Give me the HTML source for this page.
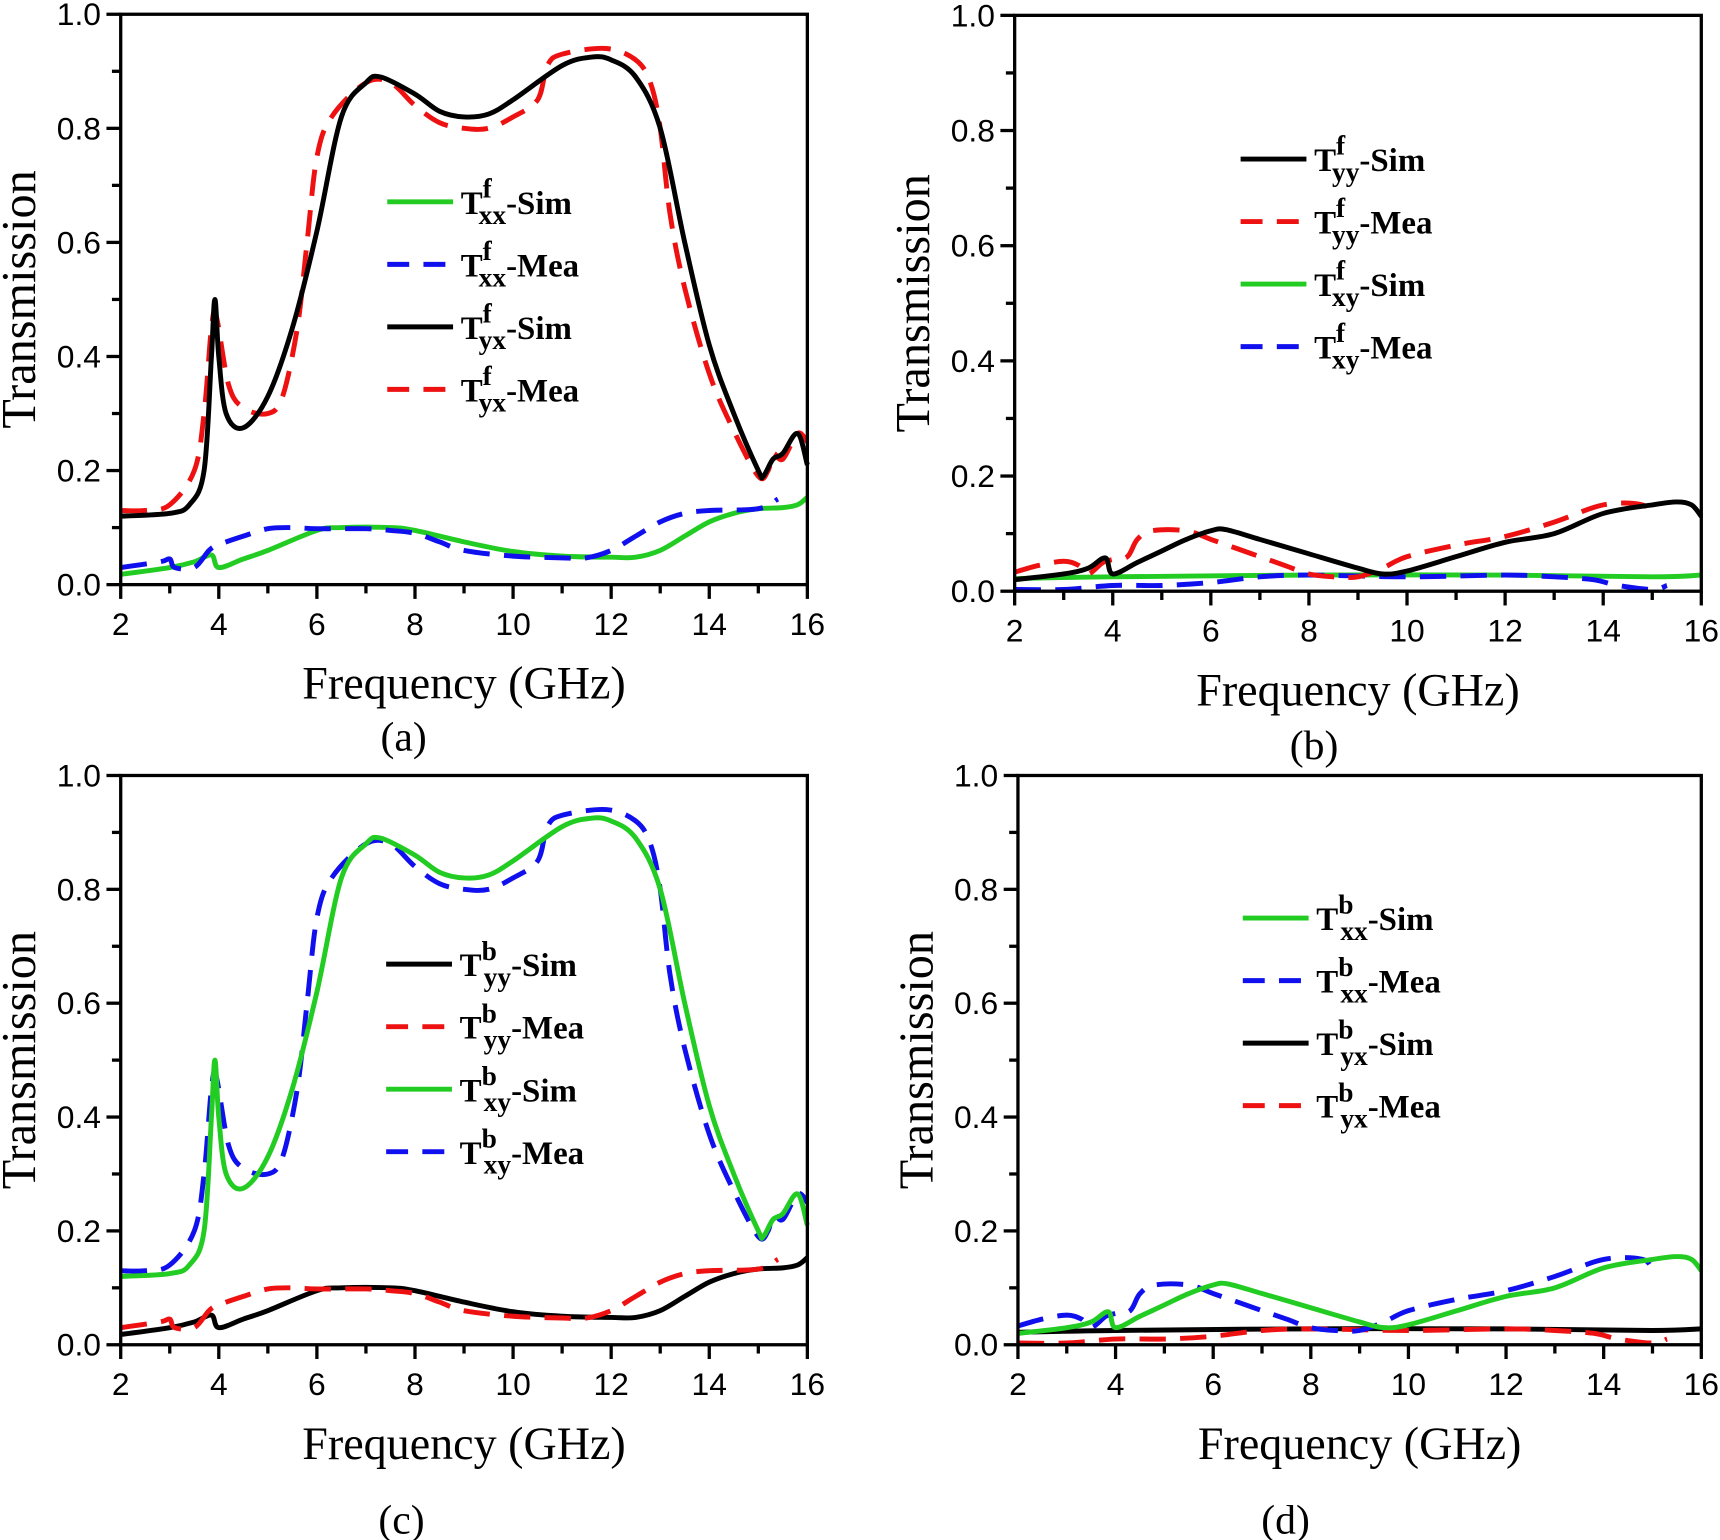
<!DOCTYPE html>
<html><head><meta charset="utf-8"><style>
html,body{margin:0;padding:0;background:#fff;}
svg{display:block;}
</style></head><body>
<svg id="s" width="1720" height="1540" viewBox="0 0 1568 1404" xmlns="http://www.w3.org/2000/svg"></svg>
<script>
const S=document.getElementById('s');
let out='';
const A=[[2,.12],[3,.125],[3.4,.14],[3.7,.2],[3.85,.4],[3.92,.5],[4.0,.4],[4.15,.3],[4.5,.275],[5,.33],[5.5,.45],[6,.62],[6.5,.82],[7,.88],[7.3,.89],[8,.86],[8.5,.83],[9,.82],[9.5,.825],[10,.85],[11,.91],[11.6,.925],[12,.92],[12.5,.89],[13,.8],[13.5,.6],[14,.42],[14.5,.3],[15,.2],[15.1,.19],[15.3,.22],[15.5,.23],[15.8,.265],[16,.21]];
const B=[[2,.13],[2.5,.13],[3,.14],[3.5,.2],[3.7,.3],[3.85,.45],[3.95,.47],[4.2,.35],[4.5,.31],[5,.3],[5.3,.33],[5.6,.45],[5.8,.6],[6,.75],[6.3,.82],[7,.88],[7.5,.88],[8,.84],[8.5,.81],[9,.8],[9.5,.8],[10,.82],[10.5,.85],[10.7,.91],[11,.93],[11.9,.94],[12.5,.92],[12.8,.88],[13,.8],[13.2,.65],[13.5,.52],[14,.37],[14.5,.27],[15,.19],[15.2,.2],[15.3,.23],[15.5,.22],[15.8,.265],[16,.25]];
const C=[[2,.018],[3,.03],[3.5,.04],[3.85,.052],[4,.03],[4.5,.045],[5,.06],[6,.095],[6.5,.1],[7.5,.1],[8,.095],[9,.075],[10,.058],[11,.05],[12,.048],[12.5,.048],[13,.06],[13.5,.085],[14,.11],[14.5,.125],[15,.133],[15.5,.135],[15.8,.14],[16,.153]];
const D=[[2,.03],[2.8,.04],[3,.045],[3.1,.03],[3.5,.03],[3.8,.06],[4,.07],[4.5,.085],[5,.098],[5.5,.1],[6,.098],[7,.098],[7.5,.095],[8,.09],[8.5,.075],[9,.06],[10,.05],[11,.047],[11.5,.047],[12,.06],[12.5,.085],[13,.11],[13.5,.125],[14,.13],[15,.133],[15.4,.15]];
const E=[[2,.02],[3,.03],[3.5,.04],[3.85,.058],[4,.03],[4.5,.05],[5,.07],[5.5,.09],[6,.105],[6.3,.107],[7,.09],[8,.065],[9,.04],[9.5,.03],[10,.035],[11,.06],[12,.085],[13,.1],[14,.135],[15,.15],[15.5,.155],[15.8,.15],[16,.13]];
const F=[[2,.033],[2.5,.045],[3,.052],[3.3,.045],[3.5,.03],[3.8,.05],[4,.055],[4.3,.06],[4.5,.09],[4.8,.105],[5.5,.105],[6,.09],[6.5,.075],[7,.06],[7.5,.045],[8,.03],[8.5,.025],[9,.025],[9.5,.04],[10,.06],[11,.08],[12,.095],[13,.12],[14,.15],[14.8,.15],[15,.13]];
const G=[[2,.022],[4,.025],[8,.028],[12,.028],[15,.025],[16,.028]];
const H=[[2,.003],[3,.003],[4,.01],[5,.01],[6,.015],[7,.025],[8,.028],[10,.025],[12,.028],[13,.025],[13.8,.02],[14.3,.01],[15,.003],[15.3,.01]];
const GR='#22cc22',BL='#1010ee',RD='#ee1111',BK='#000';
function path(pts,X,Y){let p=pts.map(q=>[X(q[0]),Y(q[1])]);let d='M'+p[0][0].toFixed(1)+','+p[0][1].toFixed(1);
for(let i=0;i<p.length-1;i++){const p0=p[i-1]||p[i],p1=p[i],p2=p[i+1],p3=p[i+2]||p2;
const c1=[p1[0]+(p2[0]-p0[0])/6,p1[1]+(p2[1]-p0[1])/6],c2=[p2[0]-(p3[0]-p1[0])/6,p2[1]-(p3[1]-p1[1])/6];
d+=`C${c1[0].toFixed(1)},${c1[1].toFixed(1)} ${c2[0].toFixed(1)},${c2[1].toFixed(1)} ${p2[0].toFixed(1)},${p2[1].toFixed(1)}`;}return d;}
function panel(L,R,T,Bt,series,leg,lab){
 const X=f=>L+(f-2)/14*(R-L),Y=v=>Bt-v*(Bt-T);
 for(const s of series){out+=`<path d="${path(s[0],X,Y)}" fill="none" stroke="${s[1]}" stroke-width="4.5" ${s[2]?'stroke-dasharray="24,13"':''} stroke-linejoin="round"/>`;}
 out+=`<rect x="${L}" y="${T}" width="${R-L}" height="${Bt-T}" fill="none" stroke="#000" stroke-width="3"/>`;
 for(let f=2;f<=16;f++){const x=X(f);out+=`<line x1="${x}" y1="${Bt}" x2="${x}" y2="${Bt+(f%2?8:13)}" stroke="#000" stroke-width="3"/>`;
  if(f%2==0)out+=`<text x="${x}" y="${Bt+46}" font-size="29" text-anchor="middle" font-family="Liberation Sans,sans-serif">${f}</text>`;}
 for(let i=0;i<=10;i++){const y=Y(i/10);out+=`<line x1="${L}" y1="${y}" x2="${L-(i%2?8:13)}" y2="${y}" stroke="#000" stroke-width="3"/>`;
  if(i%2==0)out+=`<text x="${L-18}" y="${y+10}" font-size="29" text-anchor="end" font-family="Liberation Sans,sans-serif">${(i/10).toFixed(1)}</text>`;}
 out+=`<text transform="translate(${L-78},${(T+Bt)/2}) rotate(-90)" font-size="44" text-anchor="middle" font-family="Liberation Serif,serif">Transmission</text>`;
 out+=`<text x="${(L+R)/2}" y="${Bt+104}" font-size="42" text-anchor="middle" font-family="Liberation Serif,serif">Frequency (GHz)</text>`;
 out+=`<text x="${lab[1]}" y="${lab[2]}" font-size="38" text-anchor="middle" font-family="Liberation Serif,serif">${lab[0]}</text>`;
 leg[2].forEach((r,i)=>{const y=leg[1]+i*57;
  out+=`<line x1="${leg[0]}" y1="${y}" x2="${leg[0]+60}" y2="${y}" stroke="${r[0]}" stroke-width="4.5" ${r[1]?'stroke-dasharray="20,13"':''}/>`;
  out+=`<text x="${leg[0]+67}" y="${y+11}" font-size="30" font-weight="bold" font-family="Liberation Serif,serif">T<tspan font-size="25" dy="-15">${r[2]}</tspan><tspan font-size="25" dx="-12" dy="24">${r[3]}</tspan><tspan dy="-9">-${r[4]}</tspan></text>`;});
}
panel(110,736,13,533,[[C,GR],[D,BL,1],[B,RD,1],[A,BK]],[353,184,[[GR,0,'f','xx','Sim'],[BL,1,'f','xx','Mea'],[BK,0,'f','yx','Sim'],[RD,1,'f','yx','Mea']]],['(a)',368,684]);
panel(925,1551,14,539,[[G,GR],[H,BL,1],[F,RD,1],[E,BK]],[1131,145,[[BK,0,'f','yy','Sim'],[RD,1,'f','yy','Mea'],[GR,0,'f','xy','Sim'],[BL,1,'f','xy','Mea']]],['(b)',1198,692]);
panel(110,736,707,1226,[[C,BK],[D,RD,1],[B,BL,1],[A,GR]],[352,879,[[BK,0,'b','yy','Sim'],[RD,1,'b','yy','Mea'],[GR,0,'b','xy','Sim'],[BL,1,'b','xy','Mea']]],['(c)',366,1398]);
panel(928,1551,707,1226,[[G,BK],[H,RD,1],[F,BL,1],[E,GR]],[1133,837,[[GR,0,'b','xx','Sim'],[BL,1,'b','xx','Mea'],[BK,0,'b','yx','Sim'],[RD,1,'b','yx','Mea']]],['(d)',1172,1398]);
S.innerHTML=out;
</script>
</body></html>
